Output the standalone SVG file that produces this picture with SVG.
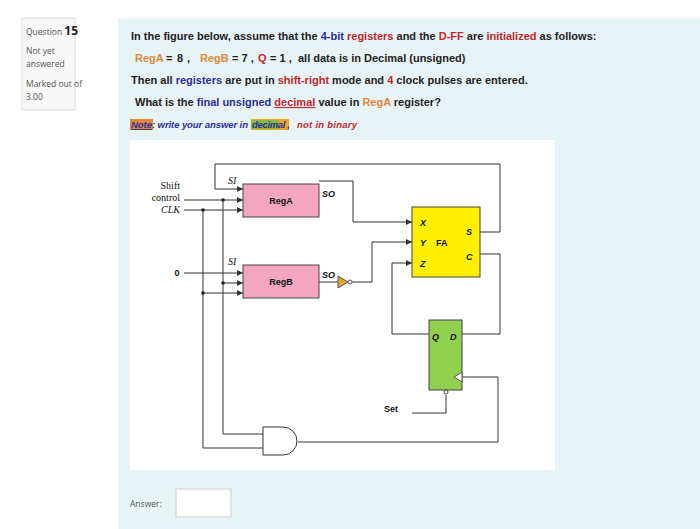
<svg xmlns="http://www.w3.org/2000/svg" width="700" height="529" viewBox="0 0 700 529">
<style>
.t{font-family:"Liberation Sans",Arial,sans-serif;font-size:11px;font-weight:bold;fill:#222}
.s{font-family:"Open Sans","Liberation Sans",sans-serif;font-size:8.5px;fill:#555}
.w{fill:none;stroke:#333;stroke-width:1}
.lb{font-family:"Liberation Sans",Arial,sans-serif;font-size:9px;font-weight:bold;fill:#111}
.sr{font-family:"Liberation Serif",serif;font-size:10px;fill:#111}
.b{fill:#2b2f9a}.r{fill:#c0282e}.o{fill:#e3883a}
.n{font-family:"Liberation Sans",Arial,sans-serif;font-size:9.5px;font-weight:bold;font-style:italic;fill:#2b2f9a}
</style>
<defs><marker id="a" viewBox="0 0 6 6" refX="6" refY="3" markerWidth="6" markerHeight="6" orient="auto"><path d="M0,0L6,3L0,6z" fill="#333"/></marker></defs>
<rect width="700" height="529" fill="#fff"/>
<rect x="118" y="18" width="582" height="511" fill="#e8f3f5"/>
<g id="qbox"><rect x="22" y="18" width="53" height="92" fill="#f8f8f8" stroke="#ddd"/>
<text x="26" y="35" class="s">Question <tspan font-size="12" font-weight="bold" fill="#222">15</tspan></text>
<text x="26" y="54" class="s">Not yet</text><text x="26" y="67" class="s">answered</text>
<text x="26" y="87" class="s">Marked out of</text><text x="26" y="100" class="s">3.00</text></g>
<g id="question">
<text x="131" y="40" class="t">In the figure below, assume that the <tspan class="b">4-bit</tspan> <tspan class="r">registers</tspan> and the <tspan class="r">D-FF</tspan> are <tspan class="r">initialized</tspan> as follows:</text>
<text y="62" class="t"><tspan x="135" class="o">RegA</tspan><tspan x="166">=</tspan><tspan x="177">8</tspan><tspan x="187">,</tspan><tspan x="200" class="o">RegB</tspan><tspan x="232">= 7 ,</tspan><tspan x="258" class="r">Q</tspan><tspan x="270">= 1 ,</tspan><tspan x="298">all data is in Decimal (unsigned)</tspan></text>
<text x="131" y="84" class="t">Then all <tspan class="b">registers</tspan> are put in <tspan class="r">shift-right</tspan> mode and <tspan class="r">4</tspan> clock pulses are entered.</text>
<text x="135" y="106" class="t">What is the <tspan class="b">final unsigned</tspan> <tspan class="r" text-decoration="underline">decimal</tspan> value in  <tspan class="o">RegA</tspan> register?</text>
<rect x="130" y="119" width="23" height="11" fill="#e3883a"/><rect x="251" y="119" width="38" height="11" fill="#f5a623"/><rect x="251" y="120" width="28" height="9" fill="#8ab83a"/>
<text y="128" class="n"><tspan x="131" text-decoration="underline" textLength="21">Note</tspan><tspan textLength="96">: write your answer in</tspan><tspan x="252" textLength="38">decimal ,</tspan><tspan x="297" class="r" textLength="60">not in binary</tspan></text>
</g>
<rect x="130" y="140" width="425" height="330" fill="#fff"/>
<g id="connectors" class="w">
<path d="M480,232H500V164H215V189H243" marker-end="url(#a)"/>
<path d="M184,200H243" marker-end="url(#a)"/>
<path d="M184,210H243" marker-end="url(#a)"/>
<path d="M184,273H243" marker-end="url(#a)"/>
<path d="M223,200V434H263"/><path d="M203,210V448H263"/>
<path d="M223,283H243" marker-end="url(#a)"/>
<path d="M203,293H243" marker-end="url(#a)"/>
<path d="M319,181H353V222H412" marker-end="url(#a)"/>
<path d="M319,282H338"/>
<path d="M352,282H372V242H412" marker-end="url(#a)"/>
<path d="M429,334H392V263H412" marker-end="url(#a)"/>
<path d="M480,254H500V334H462"/>
<path d="M462,377H498V442H298"/>
<path d="M412,413H446V395"/>
</g>
<g fill="#222"><circle cx="223" cy="200" r="1.8"/><circle cx="203" cy="210" r="1.8"/><circle cx="223" cy="283" r="1.8"/><circle cx="203" cy="293" r="1.8"/></g>
<g id="labels">
<text x="180" y="189" class="sr" text-anchor="end">Shift</text>
<text x="180" y="201" class="sr" text-anchor="end">control</text>
<text x="180" y="213" class="sr" text-anchor="end" font-style="italic">CLK</text>
<text x="177" y="276" class="lb" text-anchor="middle">0</text>
<text x="228" y="184" class="sr" font-style="italic">SI</text>
<text x="228" y="265" class="sr" font-style="italic">SI</text>
<text x="322" y="197" class="lb" font-size="8" font-style="italic">SO</text>
<text x="322" y="278" class="lb" font-size="8" font-style="italic">SO</text>
<text x="384" y="412" class="lb">Set</text>
</g>
<g id="regA"><rect x="243" y="184" width="76" height="33" fill="#f4a6c0" stroke="#444"/><text x="281" y="204" class="lb" text-anchor="middle">RegA</text></g>
<g id="regB"><rect x="243" y="265" width="76" height="33" fill="#f4a6c0" stroke="#444"/><text x="281" y="285" class="lb" text-anchor="middle">RegB</text></g>
<g id="inv"><path d="M338,276L348,282L338,288z" fill="#e3a82a" stroke="#555"/><circle cx="350" cy="282" r="2" fill="#fff" stroke="#555"/></g>
<g id="fa"><rect x="412" y="207" width="68" height="70" fill="#ffef00" stroke="#444"/>
<g class="lb" font-style="italic"><text x="420" y="226">X</text><text x="420" y="246">Y</text><text x="420" y="267">Z</text><text x="466" y="235">S</text><text x="466" y="260">C</text></g>
<text x="436" y="246" class="lb">FA</text></g>
<g id="dff"><rect x="429" y="320" width="33" height="70" fill="#92d050" stroke="#444"/>
<text x="432" y="340" class="lb" font-style="italic" font-size="8">Q</text><text x="450" y="340" class="lb" font-style="italic" font-size="8">D</text>
<path d="M462,372L454,377L462,382z" fill="#fff" stroke="#555"/><circle cx="446" cy="392" r="2" fill="#fff" stroke="#444"/></g>
<g id="and"><path d="M263,427H283A14,14 0 0 1 283,455H263z" fill="#fff" stroke="#333"/></g>
<g id="answer"><text x="130" y="507" class="s" font-size="11" fill="#333">Answer:</text><rect x="176" y="489" width="55" height="28" fill="#fff" stroke="#ccc"/></g>
</svg>
